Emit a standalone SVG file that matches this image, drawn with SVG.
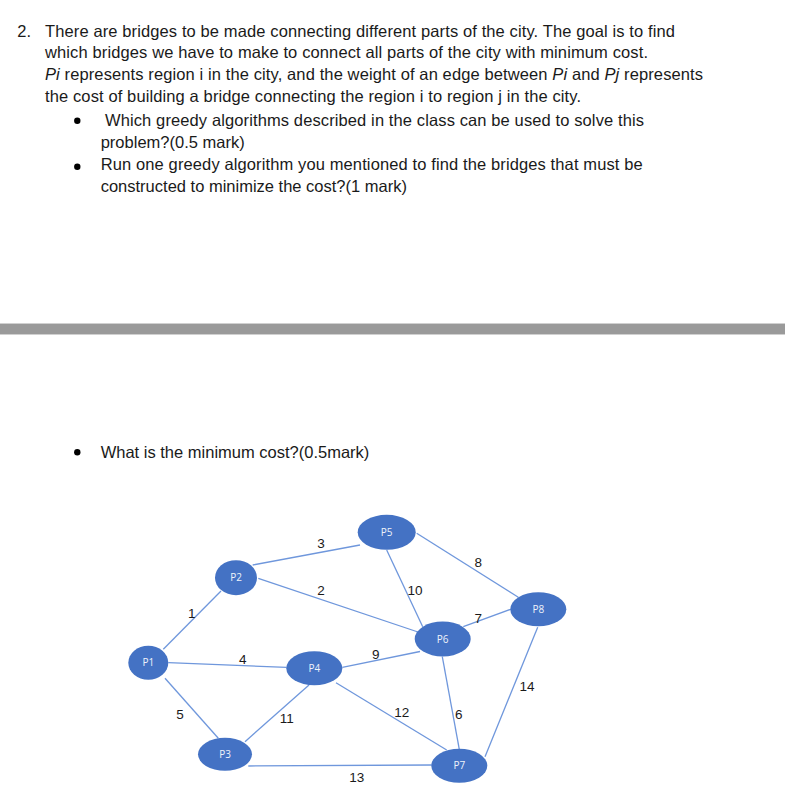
<svg xmlns="http://www.w3.org/2000/svg" width="785" height="793" viewBox="0 0 785 793">
<style>
.t{font-family:"Liberation Sans",Arial,sans-serif;font-size:16.5px;fill:#1a1a1a}
.e{stroke:#6f97dc;stroke-width:1.3;fill:none}
.n{fill:#4472c4}
.nl{font-family:"Open Sans","Liberation Sans",sans-serif;font-size:10px;fill:#eef2fa;text-anchor:middle}
.w{font-family:"Liberation Sans",Arial,sans-serif;font-size:13.5px;fill:#1a1a1a;text-anchor:middle}
</style>
<rect width="785" height="793" fill="#ffffff"/>
<g id="text">
<text class="t" x="17.3" y="36.7">2.</text>
<text class="t" x="45" y="36.7" textLength="630" lengthAdjust="spacing">There are bridges to be made connecting different parts of the city. The goal is to find</text>
<text class="t" x="45" y="58.4" textLength="603" lengthAdjust="spacing">which bridges we have to make to connect all parts of the city with minimum cost.</text>
<text class="t" x="45" y="80.1" textLength="658" lengthAdjust="spacing"><tspan font-style="italic">Pi</tspan> represents region i in the city, and the weight of an edge between <tspan font-style="italic">Pi</tspan> and <tspan font-style="italic">Pj</tspan> represents</text>
<text class="t" x="45" y="101.8" textLength="536" lengthAdjust="spacing">the cost of building a bridge connecting the region i to region j in the city.</text>
<circle cx="77.3" cy="120.7" r="3.2" fill="#000"/>
<text class="t" x="105" y="125.7" textLength="539" lengthAdjust="spacing">Which greedy algorithms described in the class can be used to solve this</text>
<text class="t" x="100.7" y="147.7">problem?(0.5 mark)</text>
<circle cx="77.3" cy="166.7" r="3.2" fill="#000"/>
<text class="t" x="100.7" y="170" textLength="542" lengthAdjust="spacing">Run one greedy algorithm you mentioned to find the bridges that must be</text>
<text class="t" x="100.7" y="192">constructed to minimize the cost?(1 mark)</text>
<rect x="0" y="324" width="785" height="10" fill="#9a9a9a"/>
<line x1="0" y1="323.5" x2="785" y2="323.5" stroke="#d0d0d0" stroke-width="1"/>
<line x1="0" y1="334.5" x2="785" y2="334.5" stroke="#d0d0d0" stroke-width="1"/>
<circle cx="77.3" cy="452.3" r="3.2" fill="#000"/>
<text class="t" x="100.7" y="457.7">What is the minimum cost?(0.5mark)</text>
</g>
<g id="connectors">
<line class="e" x1="163.3" y1="649.3" x2="221" y2="591"/>
<line class="e" x1="252.7" y1="565" x2="360" y2="545"/>
<line class="e" x1="258.3" y1="578.3" x2="418" y2="632"/>
<line class="e" x1="386.7" y1="550" x2="422.7" y2="626.7"/>
<line class="e" x1="416.7" y1="533.3" x2="518.3" y2="597.3"/>
<line class="e" x1="463.3" y1="626.7" x2="510.7" y2="609.3"/>
<line class="e" x1="168.3" y1="662.7" x2="286.7" y2="667.3"/>
<line class="e" x1="342.3" y1="667.3" x2="420" y2="651.5"/>
<line class="e" x1="165" y1="678.3" x2="218.3" y2="738.3"/>
<line class="e" x1="309" y1="685" x2="245" y2="741.7"/>
<line class="e" x1="336" y1="682.7" x2="446.7" y2="750"/>
<line class="e" x1="442.3" y1="656.7" x2="459.3" y2="749.3"/>
<line class="e" x1="248.3" y1="766" x2="431.7" y2="765"/>
<line class="e" x1="537.7" y1="627.3" x2="485" y2="756.7"/>
<text class="w" x="191.7" y="617.7">1</text>
<text class="w" x="321" y="547.7">3</text>
<text class="w" x="321" y="595">2</text>
<text class="w" x="415" y="595">10</text>
<text class="w" x="242.7" y="664.3">4</text>
<text class="w" x="375.7" y="659.3">9</text>
<text class="w" x="478.3" y="567.3">8</text>
<text class="w" x="478.3" y="623.3">7</text>
<text class="w" x="180" y="719.3">5</text>
<text class="w" x="286.7" y="723.3">11</text>
<text class="w" x="401.7" y="716.7">12</text>
<text class="w" x="458.7" y="719.3">6</text>
<text class="w" x="356.7" y="781.7">13</text>
<text class="w" x="527" y="691">14</text>
</g>
<g id="P1"><ellipse class="n" cx="148.3" cy="662.7" rx="20" ry="17"/><text class="nl" x="148.3" y="666.3">P1</text></g>
<g id="P2"><ellipse class="n" cx="236" cy="577.7" rx="21" ry="17.5"/><text class="nl" x="236" y="581.3">P2</text></g>
<g id="P3"><ellipse class="n" cx="225" cy="754.3" rx="27" ry="16.5"/><text class="nl" x="225" y="757.9">P3</text></g>
<g id="P4"><ellipse class="n" cx="314.3" cy="668.3" rx="28" ry="17"/><text class="nl" x="314.3" y="671.9">P4</text></g>
<g id="P5"><ellipse class="n" cx="386.7" cy="532.3" rx="29" ry="17.5"/><text class="nl" x="386.7" y="535.9">P5</text></g>
<g id="P6"><ellipse class="n" cx="442.7" cy="639" rx="28" ry="17.5"/><text class="nl" x="442.7" y="642.6">P6</text></g>
<g id="P7"><ellipse class="n" cx="459.3" cy="765.7" rx="28" ry="17"/><text class="nl" x="459.3" y="769.3">P7</text></g>
<g id="P8"><ellipse class="n" cx="538.3" cy="609.3" rx="28" ry="17"/><text class="nl" x="538.3" y="612.9">P8</text></g>
</svg>
